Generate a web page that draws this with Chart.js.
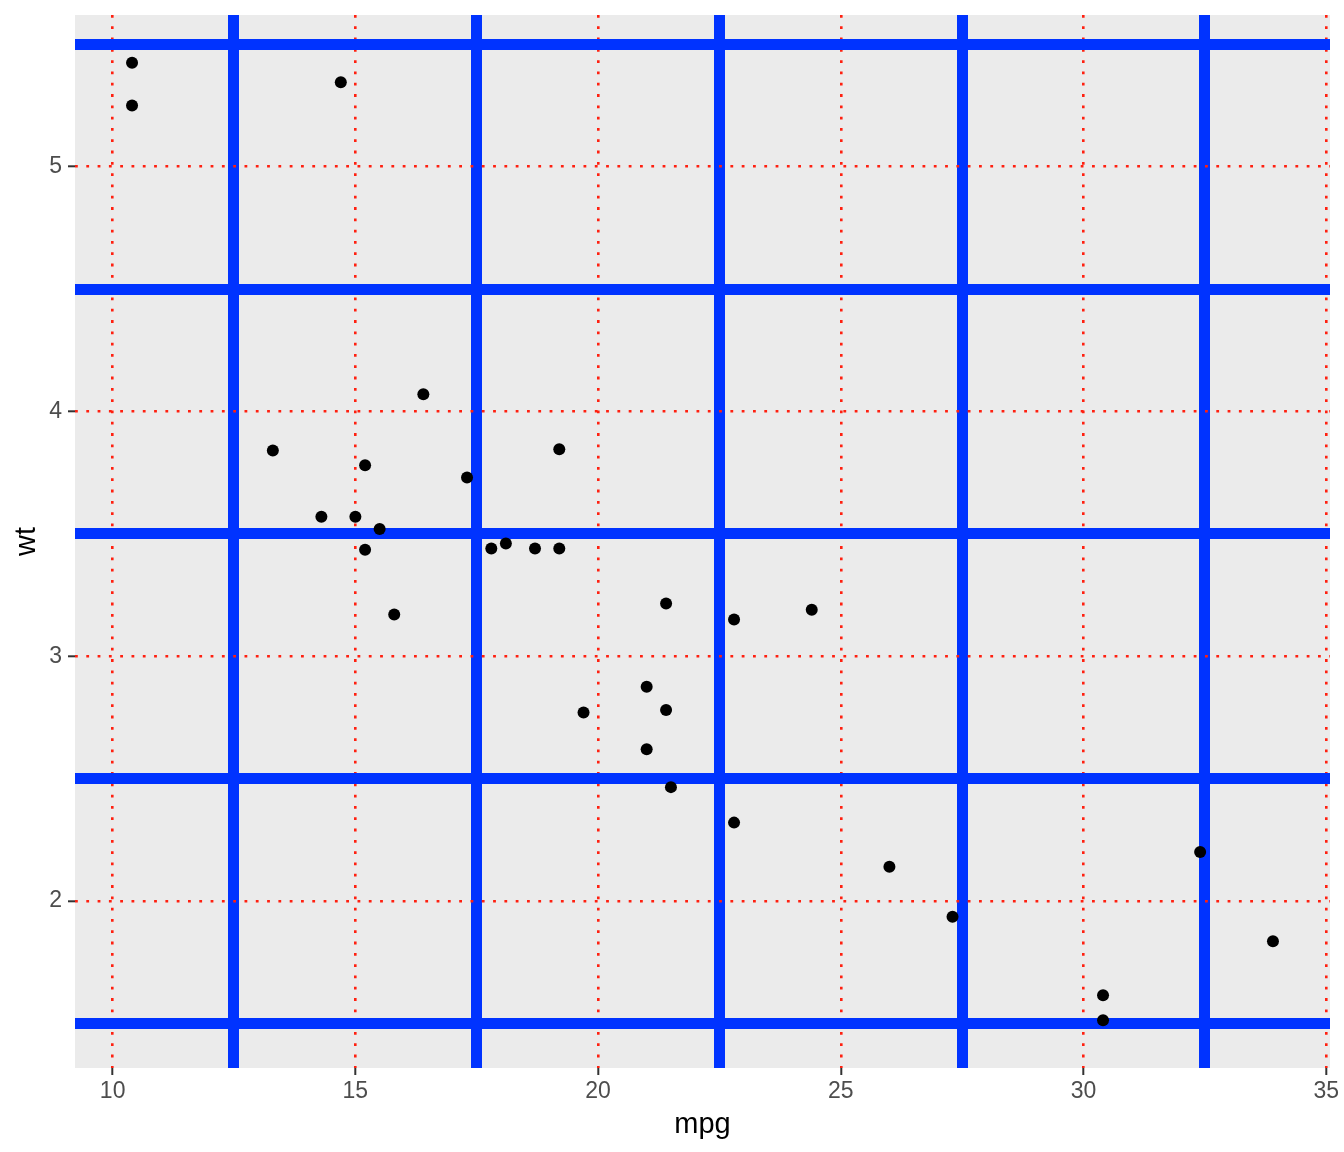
<!DOCTYPE html>
<html>
<head>
<meta charset="utf-8">
<script src="https://cdn.jsdelivr.net/npm/chart.js@4.4.0/dist/chart.umd.min.js"></script>
<style>
  html, body { margin: 0; padding: 0; background: #fff; }
  #wrap { width: 1344px; height: 1152px; position: relative; }
</style>
</head>
<body>
<div id="wrap"><canvas id="chart" width="1344" height="1152"></canvas></div>
<script>
// mtcars: mpg vs wt
const mpg = [21.0, 21.0, 22.8, 21.4, 18.7, 18.1, 14.3, 24.4, 22.8, 19.2, 17.8, 16.4, 17.3, 15.2, 10.4, 10.4,
             14.7, 32.4, 30.4, 33.9, 21.5, 15.5, 15.2, 13.3, 19.2, 27.3, 26.0, 30.4, 15.8, 19.7, 15.0, 21.4];
const wt = [2.620, 2.875, 2.320, 3.215, 3.440, 3.460, 3.570, 3.190, 3.150, 3.440, 3.440, 4.070, 3.730, 3.780, 5.250, 5.424,
            5.345, 2.200, 1.615, 1.835, 2.465, 3.520, 3.435, 3.840, 3.845, 1.935, 2.140, 1.513, 3.170, 2.770, 3.570, 2.780];

// major ticks get labels + red dotted lines, minor ones the thick blue lines
const xTicks = [10, 12.5, 15, 17.5, 20, 22.5, 25, 27.5, 30, 32.5, 35];
const yTicks = [1.5, 2, 2.5, 3, 3.5, 4, 4.5, 5, 5.5];
const xMajor = [10, 15, 20, 25, 30, 35];
const yMajor = [2, 3, 4, 5];
const xRange = [9.225, 35.075];
const yRange = [1.3175, 5.6195];

const RED = '#FF2010';
const BLUE = '#0033FF';
const FONT = "'Liberation Sans', Arial, Helvetica, sans-serif";

const points = mpg.map((m, i) => ({ x: m, y: wt[i] }));

const panelBg = {
    id: 'panelBg',
    beforeDraw(chart) {
        const { ctx, chartArea: a } = chart;
        ctx.save();
        ctx.fillStyle = '#EBEBEB';
        ctx.fillRect(a.left, a.top, a.right - a.left, a.bottom - a.top);
        ctx.restore();
    }
};

function isMajor(list, v) {
    return list.some(m => Math.abs(m - v) < 1e-9);
}

function gridFor(major) {
    return {
        drawOnChartArea: true,
        drawTicks: true,
        tickLength: 7,
        color: ctx => isMajor(major, ctx.tick.value) ? RED : BLUE,
        lineWidth: ctx => isMajor(major, ctx.tick.value) ? 2.6 : 11,
        tickColor: ctx => isMajor(major, ctx.tick.value) ? '#333333' : 'rgba(0,0,0,0)',
        tickWidth: 2
    };
}

function borderFor(major) {
    return {
        display: false,
        dash: ctx => isMajor(major, ctx.tick.value) ? [2.8, 8.5] : [],
        dashOffset: 0
    };
}

new Chart(document.getElementById('chart').getContext('2d'), {
    type: 'scatter',
    data: {
        datasets: [{
            data: points,
            backgroundColor: '#000000',
            borderWidth: 0,
            pointRadius: 6,
            pointHoverRadius: 6
        }]
    },
    options: {
        responsive: false,
        animation: false,
        events: [],
        layout: { padding: { top: 15, right: 14, left: 0, bottom: 0 } },
        plugins: {
            legend: { display: false },
            tooltip: { enabled: false }
        },
        scales: {
            x: {
                type: 'linear',
                min: xRange[0],
                max: xRange[1],
                afterBuildTicks: scale => { scale.ticks = xTicks.map(v => ({ value: v })); },
                afterFit: scale => {
                    scale.height = 84;
                    scale.paddingLeft = 0;
                    scale.paddingRight = 0;
                },
                grid: gridFor(xMajor),
                border: borderFor(xMajor),
                ticks: {
                    autoSkip: false,
                    maxRotation: 0,
                    padding: 3,
                    color: '#4D4D4D',
                    font: { family: FONT, size: 23 },
                    callback: v => isMajor(xMajor, v) ? String(v) : ''
                },
                title: {
                    display: true,
                    text: 'mpg',
                    color: '#000000',
                    font: { family: FONT, size: 29 },
                    padding: { top: 4, bottom: 10 }
                }
            },
            y: {
                type: 'linear',
                min: yRange[0],
                max: yRange[1],
                afterBuildTicks: scale => { scale.ticks = yTicks.map(v => ({ value: v })); },
                afterFit: scale => {
                    scale.width = 75;
                    scale.paddingTop = 0;
                    scale.paddingBottom = 0;
                },
                grid: gridFor(yMajor),
                border: borderFor(yMajor),
                ticks: {
                    autoSkip: false,
                    padding: 6,
                    color: '#4D4D4D',
                    font: { family: FONT, size: 23 },
                    callback: v => isMajor(yMajor, v) ? String(v) : ''
                },
                title: {
                    display: true,
                    text: 'wt',
                    color: '#000000',
                    font: { family: FONT, size: 29 },
                    padding: { top: 10, bottom: 0 }
                }
            }
        }
    },
    plugins: [panelBg]
});
</script>
</body>
</html>
